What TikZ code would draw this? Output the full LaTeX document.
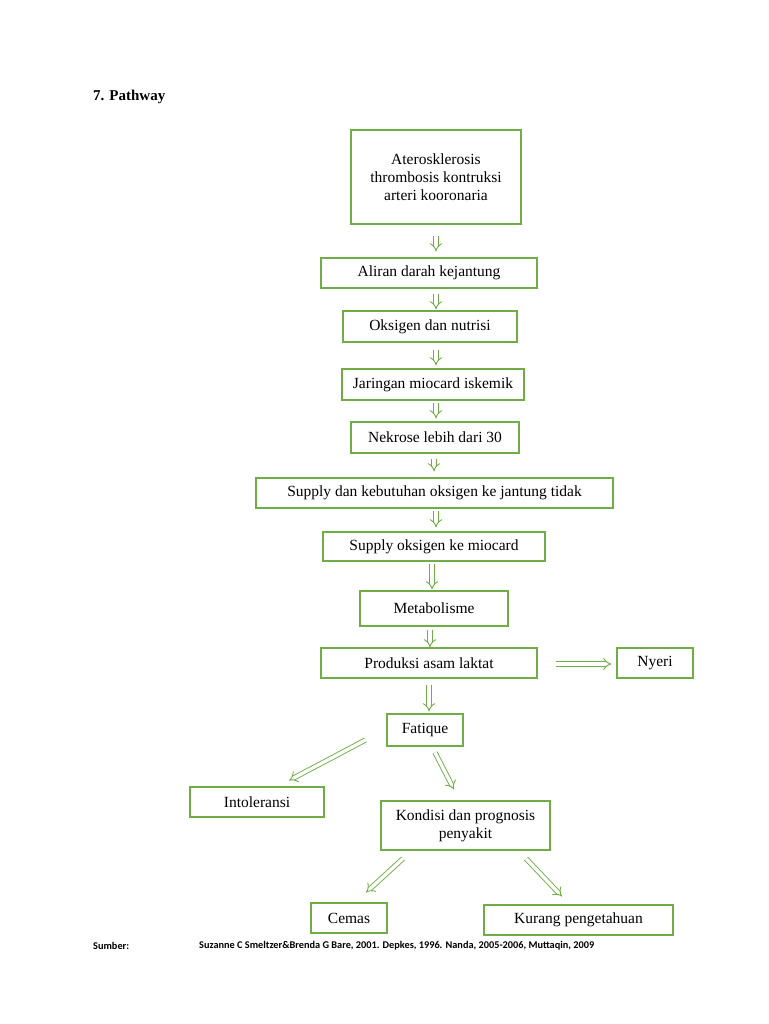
\documentclass[tikz,border=0pt]{standalone}
\usepackage{fontspec}
\setmainfont{Liberation Serif}
\newfontfamily\srcfont{Carlito}
\usetikzlibrary{arrows.meta,calc}
\definecolor{wgreen}{HTML}{70AD47}
\tikzset{
  box/.style={draw=wgreen, line width=1.1pt, fill=white, inner sep=2pt, align=center,
    font=\fontsize{15.5}{18}\selectfont},
  arr/.style={draw=wgreen, line width=0.9pt, double=white, double distance=3.4pt, -{Implies}},
}
\begin{document}
\begin{tikzpicture}[x=1pt,y=-1pt]
\useasboundingbox (0,0) rectangle (768,1024);
\node[anchor=west, font=\fontsize{15}{17}\selectfont\bfseries, inner sep=0pt] (title) at (93,97) {7. Pathway};

\node[box, minimum width=170pt, minimum height=94pt] (ater) at (436,177) {Aterosklerosis\\thrombosis kontruksi\\arteri kooronaria};
\node[box, minimum width=216pt, minimum height=30pt] (aliran) at (429,273) {Aliran darah kejantung};
\node[box, minimum width=174pt, minimum height=31pt] (oks) at (430,326.5) {Oksigen dan nutrisi};
\node[box, minimum width=182pt, minimum height=31pt] (jar) at (433,384.5) {Jaringan miocard iskemik};
\node[box, minimum width=168pt, minimum height=31pt] (nek) at (435,437.5) {Nekrose lebih dari 30};
\node[box, minimum width=357pt, minimum height=30pt] (supk) at (434.5,493) {Supply dan kebutuhan oksigen ke jantung tidak};
\node[box, minimum width=222pt, minimum height=29pt] (supo) at (434,546.5) {Supply oksigen ke miocard};
\node[box, minimum width=148pt, minimum height=35pt] (meta) at (434,608.5) {Metabolisme};
\node[box, minimum width=216pt, minimum height=30pt] (prod) at (429,663) {Produksi asam laktat};
\node[box, minimum width=76pt, minimum height=30pt] (nyeri) at (655,663) {Nyeri};
\node[box, minimum width=76pt, minimum height=32pt] (fat) at (425,730) {Fatique};
\node[box, minimum width=134pt, minimum height=30pt] (intol) at (257,802) {Intoleransi};
\node[box, minimum width=169pt, minimum height=49pt] (kond) at (465.5,825.5) {Kondisi dan prognosis\\penyakit};
\node[box, minimum width=76pt, minimum height=30pt] (cemas) at (349,918) {Cemas};
\node[box, minimum width=189pt, minimum height=30pt] (kur) at (578.5,920) {Kurang pengetahuan};

\draw[arr, shorten <=11pt, shorten >=6pt] (ater.south) -- (ater.south |- aliran.north);
\draw[arr, shorten <=5pt, shorten >=1pt] ([xshift=7pt]aliran.south) -- ([xshift=7pt]aliran.south |- oks.north);
\draw[arr, shorten <=7pt, shorten >=3pt] ([xshift=6pt]oks.south) -- ([xshift=6pt]oks.south |- jar.north);
\draw[arr, shorten <=2pt, shorten >=3pt] ([xshift=3pt]jar.south) -- ([xshift=3pt]jar.south |- nek.north);
\draw[arr, shorten <=5pt, shorten >=6pt] ([xshift=-1pt]nek.south) -- ([xshift=-1pt]nek.south |- supk.north);
\draw[arr, shorten <=2pt, shorten >=4pt] ([xshift=1.5pt]supk.south) -- ([xshift=1.5pt]supk.south |- supo.north);
\draw[arr, shorten <=2pt, shorten >=1pt] ([xshift=-2pt]supo.south) -- ([xshift=-2pt]supo.south |- meta.north);
\draw[arr, shorten <=3pt, shorten >=0pt] ([xshift=-4pt]meta.south) -- ([xshift=-4pt]meta.south |- prod.north);
\draw[arr, shorten <=6pt, shorten >=2pt] (prod.south) -- (prod.south |- fat.north);
\draw[arr, shorten <=18pt, shorten >=5pt] ([yshift=-1pt]prod.east) -- ([yshift=-1pt]nyeri.west);
\draw[arr] ([xshift=-21pt,yshift=-10pt]fat.west) -- ([xshift=32pt,yshift=6pt]intol.north);
\draw[arr] ([xshift=10pt,yshift=-6pt]fat.south) -- ([xshift=-11.5pt,yshift=11pt]kond.north);
\draw[arr] ([xshift=-62.5pt,yshift=-8pt]kond.south) -- ([xshift=17pt,yshift=10pt]cemas.north);
\draw[arr] ([xshift=60.5pt,yshift=-8pt]kond.south) -- ([xshift=-16.5pt,yshift=8pt]kur.north);

\node[anchor=west, font=\srcfont\bfseries\fontsize{10.3}{12}\selectfont, inner sep=0pt] (sumber) at (93,946) {Sumber:};
\node[anchor=west, font=\srcfont\bfseries\fontsize{10.3}{12}\selectfont, inner sep=0pt] (src) at (199,946) {Suzanne C Smeltzer\&Brenda G Bare, 2001. Depkes, 1996. Nanda, 2005-2006, Muttaqin, 2009};
\end{tikzpicture}
\end{document}
